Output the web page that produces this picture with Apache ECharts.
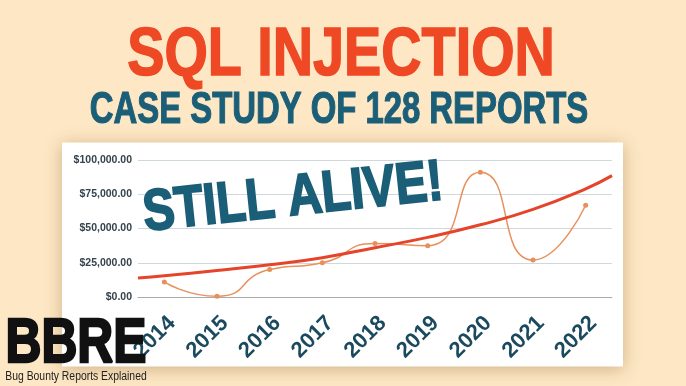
<!DOCTYPE html>
<html>
<head>
<meta charset="utf-8">
<style>html,body{margin:0;padding:0;background:#FDE7C4;}#chart{width:686px;height:386px;}</style>
<script src="https://cdn.jsdelivr.net/npm/echarts@6/dist/echarts.min.js"></script>
</head>
<body>
<div id="chart"></div>
<script>
const years = ['2014','2015','2016','2017','2018','2019','2020','2021','2022'];
const bounty = [11000, 500, 20000, 25000, 39000, 37500, 91000, 27000, 67000];
const trendX = [-0.5, 0, 1, 2, 3, 4, 5, 6, 7, 8, 8.5];
const trendValues = [13800, 15500, 19300, 23500, 28700, 36000, 43500, 52700, 64000, 79000, 88600];
const yTickLabels = ['$0.00', '$25,000.00', '$50,000.00', '$75,000.00', '$100,000.00'];
const titleText = 'SQL INJECTION';
const subtitleText = 'CASE STUDY OF 128 REPORTS';
const stampText = 'STILL ALIVE!';
const logoText = 'BBRE';
const logoTagline = 'Bug Bounty Reports Explained';

const chart = echarts.init(document.getElementById('chart'), null, {renderer: 'canvas'});
const softShadow = {shadowColor: 'rgba(0,0,0,0.18)', shadowBlur: 4, shadowOffsetY: 2};
chart.setOption({
  backgroundColor: '#FDE7C4',
  animation: false,
  grid: {left: 138, right: 74, top: 160, height: 137, containLabel: false},
  xAxis: [{
    type: 'category', data: years, boundaryGap: true,
    axisTick: {show: false},
    axisLine: {lineStyle: {color: '#a9a9a9', width: 1}},
    axisLabel: {rotate: 45, fontSize: 22, fontWeight: 'bold', color: '#1b4a5e',
      fontFamily: 'Liberation Sans, Arial, sans-serif', margin: 15, verticalAlign: 'top', interval: 0}
  }, {
    type: 'value', min: -0.5, max: 8.5, show: false
  }],
  yAxis: {
    type: 'value', min: 0, max: 100000, interval: 25000,
    axisLine: {show: false}, axisTick: {show: false},
    splitLine: {lineStyle: {color: '#cfd8dc', width: 1}},
    axisLabel: {formatter: v => yTickLabels[Math.round(v / 25000)], fontSize: 10.5, fontWeight: 'bold',
      color: '#34434d', fontFamily: 'Liberation Sans, Arial, sans-serif', margin: 6}
  },
  series: [{
    type: 'line', data: bounty, smooth: 0.6, symbol: 'circle', symbolSize: 5,
    lineStyle: {color: '#e8905c', width: 1.5}, itemStyle: {color: '#e8905c'}, z: 2
  }, {
    type: 'line', xAxisIndex: 1, data: trendX.map((x, i) => [x, trendValues[i]]),
    smooth: true, showSymbol: false, lineStyle: {color: '#e5442a', width: 3}, z: 3
  }],
  graphic: {elements: [
    {type: 'rect', z: -10, shape: {x: 62, y: 142.5, width: 561, height: 224},
      style: {fill: '#ffffff', shadowBlur: 16, shadowColor: 'rgba(120,80,20,0.35)', shadowOffsetX: 0, shadowOffsetY: 2}},
    {type: 'text', x: 341, y: 56, scaleX: 0.82, z: 10,
      style: Object.assign({text: titleText, x: 0, y: 0, align: 'center', verticalAlign: 'middle',
        font: 'bold 68px "Liberation Sans", Arial, sans-serif', fill: '#ee4824',
        stroke: '#ee4824', lineWidth: 1.5}, softShadow)},
    {type: 'text', x: 339, y: 110.5, scaleX: 0.73, z: 10,
      style: Object.assign({text: subtitleText, x: 0, y: 0, align: 'center', verticalAlign: 'middle',
        font: 'bold 45px "Liberation Sans", Arial, sans-serif', fill: '#1b5e78',
        stroke: '#1b5e78', lineWidth: 1.2}, softShadow)},
    {type: 'text', x: 293, y: 199, scaleX: 0.82, rotation: 0.105, z: 20,
      style: {text: stampText, x: 0, y: 0, align: 'center', verticalAlign: 'middle',
        font: 'bold 58px "Liberation Sans", Arial, sans-serif', fill: '#1b5e78',
        stroke: '#1b5e78', lineWidth: 2, shadowColor: 'rgba(0,0,0,0.2)', shadowBlur: 5, shadowOffsetY: 3}},
    {type: 'text', x: 76, y: 345, scaleX: 0.79, z: 30,
      style: {text: logoText, x: 0, y: 0, align: 'center', verticalAlign: 'middle',
        font: 'bold 63px "Liberation Sans", Arial, sans-serif', fill: '#111111',
        stroke: '#111111', lineWidth: 2.5}},
    {type: 'text', x: 76, y: 377, scaleX: 0.865, z: 30,
      style: {text: logoTagline, x: 0, y: 0, align: 'center', verticalAlign: 'middle',
        font: '12px "Liberation Sans", Arial, sans-serif', fill: '#222222'}}
  ]}
});
</script>
</body>
</html>
